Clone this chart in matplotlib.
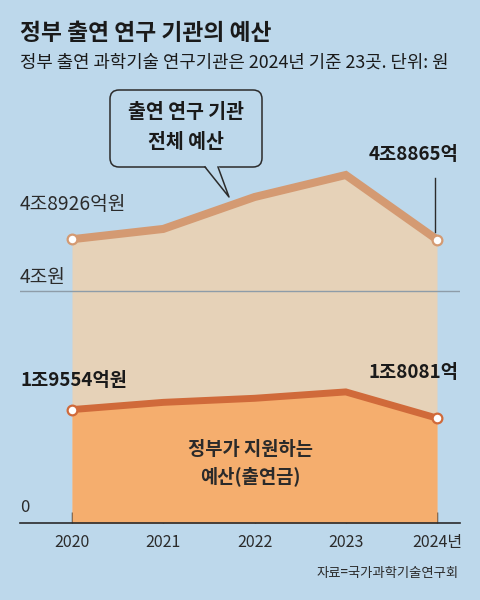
import matplotlib
matplotlib.use("Agg")
import matplotlib.pyplot as plt
from matplotlib.transforms import Affine2D
from matplotlib.patches import FancyBboxPatch, Polygon
from matplotlib.lines import Line2D

plt.rcParams['font.family'] = ['Noto Sans CJK KR', 'DejaVu Sans']

# data (unit: 조원)
years = [2020, 2021, 2022, 2023, 2024]
total = [4.8926, 5.07, 5.62, 6.00, 4.8865]
gov = [1.9554, 2.08, 2.15, 2.26, 1.8081]
xlabels = ['2020', '2021', '2022', '2023', '2024년']

bg = '#BDD8EB'
dark = '#2b2b2b'

fig = plt.figure(figsize=(4.8, 6), dpi=100, facecolor=bg)
# pixel coords measured from the top-left corner
px = Affine2D().scale(0.01, -0.01).translate(0, 6.0) + fig.dpi_scale_trans

ax = fig.add_axes([20 / 480, 77 / 600, 440 / 480, 433 / 600])
ax.set_facecolor('none')
ax.set_xlim(2020 - 52 / 91.25, 2024 + 23 / 91.25)
ax.set_ylim(0, 433 / 58)

# total budget
ax.fill_between(years, 0, total, color='#E6D2B8', lw=0, zorder=1)
ax.plot(years, total, color='#D49A72', lw=5.8, solid_joinstyle='miter',
        solid_capstyle='butt', zorder=3)
ax.plot([years[0], years[-1]], [total[0], total[-1]], 'o', ms=7, mfc='white',
        mec='#D49A72', mew=1.6, zorder=5)

# government contribution
ax.fill_between(years, 0, gov, color='#F5AE6E', lw=0, zorder=2)
ax.plot(years, gov, color='#D06A3A', lw=5, solid_joinstyle='miter',
        solid_capstyle='butt', zorder=4)
ax.plot([years[0], years[-1]], [gov[0], gov[-1]], 'o', ms=7, mfc='white',
        mec='#D06A3A', mew=1.6, zorder=5)

ax.axhline(4, color='#8E9CA8', lw=1, zorder=2.5)

for s in ['top', 'left', 'right']:
    ax.spines[s].set_visible(False)
ax.spines['bottom'].set_color(dark)
ax.spines['bottom'].set_linewidth(1.2)
ax.spines['bottom'].set_zorder(6)
ax.set_yticks([])
ax.set_xticks(years)
ax.set_xticklabels(xlabels, fontsize=11.5, color=dark)
ax.tick_params(axis='x', direction='in', length=7.9, width=1, color=dark, pad=8)
for t in ax.xaxis.get_major_ticks():
    t.tick1line.set_zorder(6)

# titles
fig.text(20, 33, '정부 출연 연구 기관의 예산', transform=px, fontsize=16.4,
         fontweight='bold', color='#1a1a1a', va='center', ha='left')
fig.text(20, 63, '정부 출연 과학기술 연구기관은 2024년 기준 23곳. 단위: 원',
         transform=px, fontsize=12.8, color='#1a1a1a', va='center', ha='left')

# value labels
fig.text(20, 205, '4조8926억원', transform=px, fontsize=13.8, color=dark,
         va='center', ha='left')
fig.text(20, 277, '4조원', transform=px, fontsize=13.8, color=dark,
         va='center', ha='left')
fig.text(20, 380, '1조9554억원', transform=px, fontsize=13.5, fontweight='bold',
         color='#1a1a1a', va='center', ha='left')
fig.text(458, 155, '4조8865억', transform=px, fontsize=13.5, fontweight='bold',
         color='#1a1a1a', va='center', ha='right')
fig.text(458, 373, '1조8081억', transform=px, fontsize=13.5, fontweight='bold',
         color='#1a1a1a', va='center', ha='right')
fig.text(20, 508, '0', transform=px, fontsize=12, color=dark,
         va='center', ha='left')
fig.text(250, 463, '정부가 지원하는\n예산(출연금)', transform=px, fontsize=13.5,
         fontweight='bold', color='#2a2a2a', va='center', ha='center',
         linespacing=1.45)
fig.text(459, 573, '자료=국가과학기술연구회', transform=px, fontsize=9.6,
         color=dark, va='center', ha='right')

# leader line for 2024 total
fig.add_artist(Line2D([435, 435], [178, 232], transform=px, color=dark, lw=1))

# callout box
box = FancyBboxPatch((110, 90), 152, 77, boxstyle='round,pad=0,rounding_size=9',
                     transform=px, facecolor=bg, edgecolor=dark, lw=1.1)
fig.patches.append(box)
tail = Polygon([(204.5, 165.0), (229, 197), (218.5, 165.0)], closed=True,
               transform=px, facecolor=bg, edgecolor='none')
fig.patches.append(tail)
fig.add_artist(Line2D([205, 229, 218], [167, 197, 167], transform=px,
                      color=dark, lw=1.1))
fig.text(186, 113, '출연 연구 기관', transform=px, fontsize=14, fontweight='bold',
         color='#1a1a1a', va='center', ha='center')
fig.text(186, 143, '전체 예산', transform=px, fontsize=14, fontweight='bold',
         color='#1a1a1a', va='center', ha='center')

fig.savefig('out.png', dpi=100, facecolor=bg)
